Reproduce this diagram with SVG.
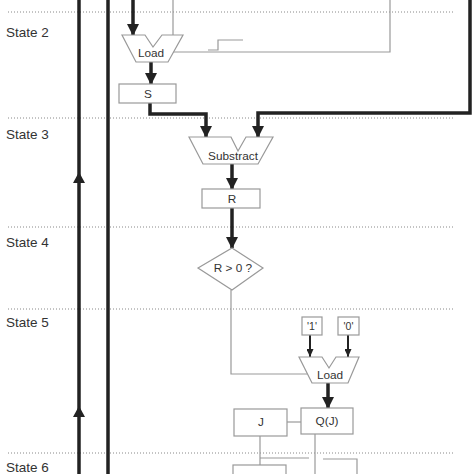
<svg xmlns="http://www.w3.org/2000/svg" width="474" height="474" viewBox="0 0 474 474">
<defs>
<marker id="ah" markerUnits="userSpaceOnUse" markerWidth="12" markerHeight="12" viewBox="0 0 12 12" refX="11" refY="6" orient="auto"><path d="M0,0 L12,6 L0,12 z" fill="#222"/></marker>
<marker id="as" markerUnits="userSpaceOnUse" markerWidth="8" markerHeight="7" viewBox="0 0 8 7" refX="8" refY="3.5" orient="auto"><path d="M0,0 L8,3.5 L0,7 z" fill="#222"/></marker>
</defs>
<style>
.dot{stroke:#888;stroke-width:1;stroke-dasharray:1 2;fill:none}
.lbl{font-family:"Liberation Sans",Arial,sans-serif;font-size:13.5px;fill:#333}
.t{font-family:"Liberation Sans",Arial,sans-serif;font-size:11.8px;fill:#333;text-anchor:middle}
.ts{font-family:"Liberation Sans",Arial,sans-serif;font-size:10.5px;fill:#333;text-anchor:middle}
.box{fill:#fff;stroke:#999;stroke-width:1.2}
.thick{stroke:#222;stroke-width:3.5;fill:none}
.thin{stroke:#999;stroke-width:1.2;fill:none}
.med{stroke:#222;stroke-width:2;fill:none}
</style>
<rect width="474" height="474" fill="#fff"/>
<g id="states">
<line class="dot" x1="8" y1="12" x2="453" y2="12"/>
<line class="dot" x1="8" y1="118" x2="453" y2="118"/>
<line class="dot" x1="8" y1="227" x2="453" y2="227"/>
<line class="dot" x1="8" y1="309" x2="453" y2="309"/>
<line class="dot" x1="8" y1="453" x2="453" y2="453"/>
<text class="lbl" x="6" y="37">State 2</text>
<text class="lbl" x="6" y="139">State 3</text>
<text class="lbl" x="6" y="247">State 4</text>
<text class="lbl" x="6" y="327">State 5</text>
<text class="lbl" x="6" y="472">State 6</text>
</g>
<g id="connectors">
<line class="thick" x1="79" y1="0" x2="79" y2="474"/>
<line class="thick" x1="108" y1="0" x2="108" y2="474"/>
<polygon points="79,172 73,183 85,183" fill="#222"/>
<polygon points="79,406 73,417 85,417" fill="#222"/>
<path class="thick" d="M133,0 V35" marker-end="url(#ah)"/>
<path class="thin" d="M173,0 V35"/>
<path class="thin" d="M169,52 H390 V0"/>
<path class="thin" d="M208,50 H218 V40 H243"/>
<path class="thick" d="M151,62 V84" marker-end="url(#ah)"/>
<path class="thick" d="M150,103 V114 H206 V137" marker-end="url(#ah)"/>
<path class="thick" d="M470,0 V113 H258 V137" marker-end="url(#ah)"/>
<path class="thick" d="M232,164 V189" marker-end="url(#ah)"/>
<path class="thick" d="M232,208 V248" marker-end="url(#ah)"/>
<path class="thin" d="M231,290 V374 H307"/>
<path class="med" d="M310,335 V357" marker-end="url(#as)"/>
<path class="med" d="M348,335 V357" marker-end="url(#as)"/>
<path class="thick" d="M328,383 V408" marker-end="url(#ah)"/>
<path class="thin" d="M287,422 H301"/>
<path class="thin" d="M260,436 V465 M260,458 H309"/>
<path class="thin" d="M315,434 V474"/>
<path class="thin" d="M323,459 H357 V474"/>
</g>
<g id="load1">
<path class="box" d="M122,35 H145 L153,47 L162,35 H183 L168,62 H136 Z"/>
<text class="t" x="151" y="57">Load</text>
</g>
<g id="S">
<rect class="box" x="119" y="84" width="57" height="19"/>
<text class="t" x="148" y="98">S</text>
</g>
<g id="substract">
<path class="box" d="M189,137 H231 L238,151 L246,137 H273 L258,164 H203 Z"/>
<text class="t" x="233" y="160">Substract</text>
</g>
<g id="R">
<rect class="box" x="202" y="189" width="58" height="19"/>
<text class="t" x="232" y="203">R</text>
</g>
<g id="decision">
<path class="box" d="M232,248 L263,268 L232,290 L198,268 Z"/>
<text class="t" x="233" y="272">R &gt; 0 ?</text>
</g>
<g id="one">
<rect class="box" x="302" y="317" width="20" height="18"/>
<text class="ts" x="312" y="330">'1'</text>
</g>
<g id="zero">
<rect class="box" x="338" y="317" width="21" height="18"/>
<text class="ts" x="348.5" y="330">'0'</text>
</g>
<g id="load2">
<path class="box" d="M299,357 H322 L329,368 L336,357 H359 L348,383 H312 Z"/>
<text class="t" x="330" y="379">Load</text>
</g>
<g id="J">
<rect class="box" x="234" y="409" width="53" height="27"/>
<text class="t" x="261" y="426">J</text>
</g>
<g id="QJ">
<rect class="box" x="301" y="408" width="52" height="26"/>
<text class="t" x="327" y="425">Q(J)</text>
</g>
<g id="bottombox">
<rect class="box" x="233" y="465" width="53" height="20"/>
</g>
</svg>
